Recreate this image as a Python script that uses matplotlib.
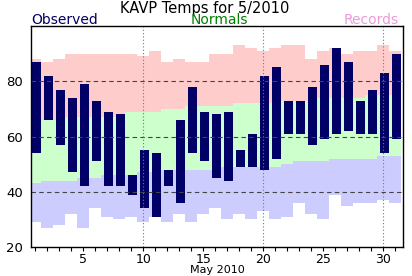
"""
KAVP daily temperatures for May 2010 against normals and records.
"""
import numpy as np
import matplotlib
matplotlib.use("Agg")
import matplotlib.pyplot as plt

# Day of month
days = np.arange(1, 32)

# Observed highs and lows (F)
obs_high = [87, 82, 77, 74, 79, 73, 69, 68, 46, 55, 54, 48, 66, 78, 69, 68,
            69, 55, 61, 82, 85, 73, 73, 78, 86, 92, 87, 73, 77, 83, 90]
obs_low = [54, 66, 57, 47, 42, 51, 42, 42, 39, 34, 31, 42, 36, 54, 51, 45,
           44, 49, 49, 48, 52, 61, 61, 57, 59, 61, 62, 61, 61, 54, 59]

# Normals
norm_high = [66, 66, 66, 67, 67, 67, 67, 67, 69, 69, 69, 70, 70, 71, 71, 71,
             71, 72, 72, 72, 72, 73, 73, 73, 74, 74, 74, 74, 75, 75, 75]
norm_low = [43, 44, 44, 44, 45, 45, 46, 46, 46, 47, 47, 48, 48, 48, 48, 48,
            49, 49, 49, 49, 49, 50, 51, 51, 51, 52, 52, 52, 52, 53, 53]

# Records
rec_high = [88, 87, 88, 90, 90, 90, 90, 90, 90, 89, 91, 87, 88, 87, 87, 90,
            90, 93, 92, 91, 92, 93, 93, 88, 91, 92, 90, 91, 91, 93, 91]
rec_low = [29, 27, 28, 32, 27, 34, 31, 30, 31, 29, 31, 29, 32, 29, 32, 34,
           30, 32, 30, 33, 30, 31, 36, 32, 30, 39, 35, 36, 36, 37, 36]

obs_high = np.array(obs_high)
obs_low = np.array(obs_low)
norm_high = np.array(norm_high)
norm_low = np.array(norm_low)
rec_high = np.array(rec_high)
rec_low = np.array(rec_low)

fig = plt.figure(figsize=(4.12, 2.76), dpi=100)
ax = fig.add_axes([31 / 412, 1 - 247 / 276, 372 / 412, 221 / 276])

# Record / normal bands
band = dict(width=1.0, linewidth=0, antialiased=False, zorder=1)
ax.bar(days, rec_high - norm_high, bottom=norm_high, color="#ffcccc", **band)
ax.bar(days, norm_high - norm_low, bottom=norm_low, color="#ccffcc", **band)
ax.bar(days, norm_low - rec_low, bottom=rec_low, color="#ccccff", **band)

# Observed range
ax.bar(days + 0.1, obs_high - obs_low, bottom=obs_low, width=0.75,
       color="#000066", linewidth=0, zorder=2)

ax.set_xlim(0.65, 31.65)
ax.set_ylim(20, 100)

# Grid
for y in [40, 60, 80]:
    ax.axhline(y, color="#444444", linewidth=0.8, dashes=(4, 3), zorder=3)
for x in [10, 20, 30]:
    ax.axvline(x, color="#777777", linewidth=0.8, dashes=(1, 2), zorder=3)

ax.set_yticks([20, 40, 60, 80])
ax.set_xticks([5, 10, 15, 20, 25, 30])
ax.set_xticks(days, minor=True)
ax.tick_params(axis="y", length=0, pad=6, labelsize=9.5)
ax.tick_params(axis="x", which="both", direction="out", length=3,
               width=0.8, pad=1.5, labelsize=9)
ax.set_xlabel("May 2010", fontsize=8, labelpad=-1)
for s in ax.spines.values():
    s.set_linewidth(1.0)
    s.set_zorder(4)

fig.text(205 / 412, 1 - 1.5 / 276, "KAVP Temps for 5/2010", ha="center",
         va="top", fontsize=10.5, color="black")
fig.text(31 / 412, 1 - 24 / 276, "Observed", ha="left", va="baseline",
         fontsize=10, color="#000066")
fig.text(219 / 412, 1 - 24 / 276, "Normals", ha="center", va="baseline",
         fontsize=10, color="#008000")
fig.text(399 / 412, 1 - 24 / 276, "Records", ha="right", va="baseline",
         fontsize=10, color="#ee99dd")

fig.savefig("out.png", dpi=100)
